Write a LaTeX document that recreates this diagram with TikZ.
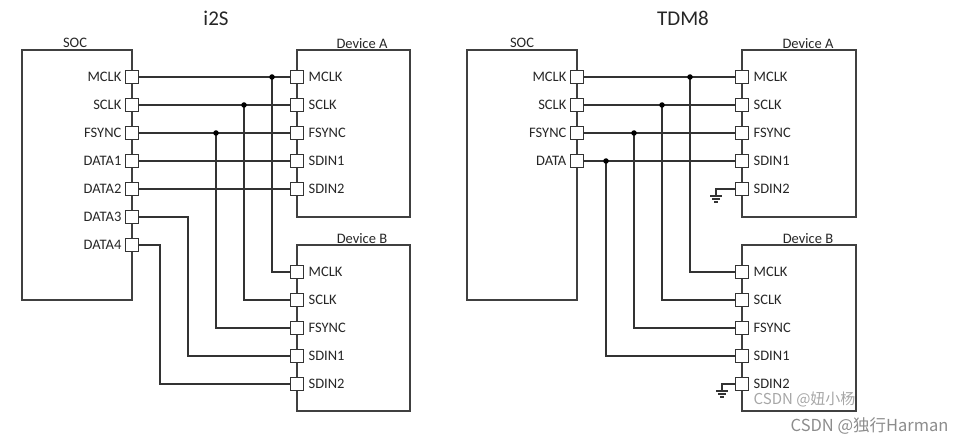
\documentclass[tikz,border=0pt]{standalone}
\usetikzlibrary{calc}
\usepackage{fontspec}
\setmainfont{Carlito}
\newfontfamily\cjk{Noto Sans CJK SC}
\begin{document}
\begin{tikzpicture}[x=1pt,y=-1pt,line width=1.3pt,
  box/.style={draw=black!75},
  wire/.style={draw=black!80,line width=1.1pt},
  pin/.style={draw=black!80,fill=white,minimum size=12.5pt,inner sep=0pt,line width=1.1pt},
  lbl/.style={font=\fontsize{14.5}{16}\selectfont,text=black!85,inner sep=0pt},
  ttl/.style={font=\fontsize{21}{24}\selectfont,text=black!85},
  dot/.style={circle,fill=black,inner sep=0pt,minimum size=5.5pt},
  wm/.style={text=black!35,font=\fontsize{15}{17}\selectfont\cjk,inner sep=0pt}]
\useasboundingbox (0,0) rectangle (968,443);
\newcommand\gnd[1]{\draw[wire] (#1) -- ++(0,4) (#1)++(-6,4) -- ++(12,0) (#1)++(-4,7) -- ++(8,0) (#1)++(-2,10) -- ++(4,0);}
% ---------- i2S ----------
\node[ttl] (t1) at (216,18) {i2S};
\draw[box] (22,50) rectangle (132,300);
\draw[box] (297,50) rectangle (410,217);
\draw[box] (297,245) rectangle (410,411);
\node[lbl] (s1) at (75,43) {SOC};
\node[lbl] (a1) at (362,44) {Device A};
\node[lbl] (b1) at (362,239) {Device B};
\foreach \n/\y/\t in {m/77/MCLK,s/105/SCLK,f/133/FSYNC,d1/161/DATA1,d2/189/DATA2,d3/217/DATA3,d4/245/DATA4}{
  \node[pin] (L\n) at (132,\y) {};
  \node[lbl,anchor=east] at (122,\y) {\t};}
\foreach \n/\y/\t in {m/77/MCLK,s/105/SCLK,f/133/FSYNC,d1/161/SDIN1,d2/189/SDIN2}{
  \node[pin] (LA\n) at (297,\y) {};
  \node[lbl,anchor=west] at (308,\y) {\t};}
\foreach \n/\y/\t in {m/272/MCLK,s/300/SCLK,f/328/FSYNC,d1/356/SDIN1,d2/384/SDIN2}{
  \node[pin] (LB\n) at (297,\y) {};
  \node[lbl,anchor=west] at (308,\y) {\t};}
\foreach \n in {m,s,f,d1,d2}{\draw[wire] (L\n) -- (LA\n);}
\draw[wire] (272,77) |- (LBm);
\draw[wire] (244,105) |- (LBs);
\draw[wire] (216,133) |- (LBf);
\draw[wire] (Ld3) -| (188,356) -- (LBd1);
\draw[wire] (Ld4) -| (160,384) -- (LBd2);
\node[dot] at (272,77) {}; \node[dot] at (244,105) {}; \node[dot] at (216,133) {};
% ---------- TDM8 ----------
\node[ttl] (t2) at (683,18) {TDM8};
\draw[box] (467,50) rectangle (577,300);
\draw[box] (742,50) rectangle (856,217);
\draw[box] (742,245) rectangle (856,411);
\node[lbl] (s2) at (522,43) {SOC};
\node[lbl] (a2) at (808,44) {Device A};
\node[lbl] (b2) at (808,239) {Device B};
\foreach \n/\y/\t in {m/77/MCLK,s/105/SCLK,f/133/FSYNC,d/161/DATA}{
  \node[pin] (R\n) at (577,\y) {};
  \node[lbl,anchor=east] at (567,\y) {\t};}
\foreach \n/\y/\t in {m/77/MCLK,s/105/SCLK,f/133/FSYNC,d1/161/SDIN1,d2/189/SDIN2}{
  \node[pin] (RA\n) at (742,\y) {};
  \node[lbl,anchor=west] at (753,\y) {\t};}
\foreach \n/\y/\t in {m/272/MCLK,s/300/SCLK,f/328/FSYNC,d1/356/SDIN1,d2/384/SDIN2}{
  \node[pin] (RB\n) at (742,\y) {};
  \node[lbl,anchor=west] at (753,\y) {\t};}
\draw[wire] (Rm) -- (RAm); \draw[wire] (Rs) -- (RAs);
\draw[wire] (Rf) -- (RAf); \draw[wire] (Rd) -- (RAd1);
\draw[wire] (690,77) |- (RBm);
\draw[wire] (662,105) |- (RBs);
\draw[wire] (634,133) |- (RBf);
\draw[wire] (606,161) |- (RBd1);
\node[dot] at (690,77) {}; \node[dot] at (662,105) {}; \node[dot] at (634,133) {}; \node[dot] at (606,161) {};
\coordinate (g1) at (716,189); \coordinate (g2) at (722,384);
\draw[wire] (RAd2) -- (g1) -- ++(0,3); \gnd{$(g1)+(0,3)$}
\draw[wire] (RBd2) -- (g2) -- ++(0,3); \gnd{$(g2)+(0,3)$}
% watermarks
\node[wm,anchor=west] at (753,399) {CSDN @妞小杨};
\node[wm,anchor=west,text=black!45,font=\fontsize{16.5}{18}\selectfont\cjk] at (790,426) {CSDN @独行Harman};
\end{tikzpicture}
\end{document}
